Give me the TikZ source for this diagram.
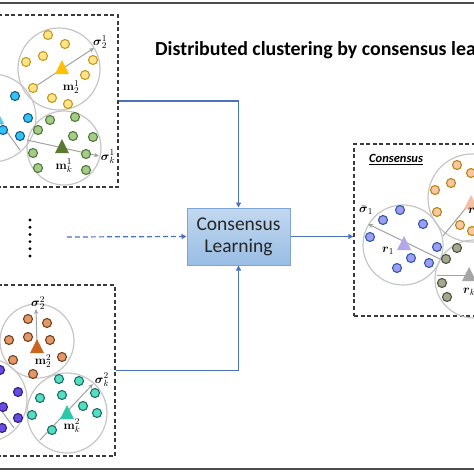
\documentclass[tikz,border=0pt]{standalone}
\usepackage{amsmath}
\usepackage[no-math]{fontspec}
\setmainfont{Carlito}
\usetikzlibrary{arrows.meta}
\definecolor{rulegray}{HTML}{4D4D4D}
\definecolor{boxgray}{HTML}{3A3A3A}
\definecolor{cgray}{HTML}{C6C6C6}
\definecolor{agray}{HTML}{A2A2A2}
\definecolor{conn}{HTML}{4A72BE}
\definecolor{clfillA}{HTML}{C2D8EF}
\definecolor{clfillB}{HTML}{99BDE4}
\definecolor{cldraw}{HTML}{7FA5D3}
\definecolor{yellowF}{HTML}{FFE48A}\definecolor{yellowD}{HTML}{C49A1E}\definecolor{yellowT}{HTML}{FFC000}
\definecolor{cyanF}{HTML}{2FC4F2}\definecolor{cyanD}{HTML}{1B5A8C}\definecolor{cyanT}{HTML}{55C6EE}
\definecolor{greenF}{HTML}{A6CC8A}\definecolor{greenD}{HTML}{4F7A35}\definecolor{greenT}{HTML}{5A7A34}
\definecolor{orangeF}{HTML}{E09A68}\definecolor{orangeD}{HTML}{7A3F1E}\definecolor{orangeT}{HTML}{C9651E}
\definecolor{purpleF}{HTML}{6A4BE0}\definecolor{purpleD}{HTML}{2C1E80}
\definecolor{tealF}{HTML}{55DEC2}\definecolor{tealD}{HTML}{1E6E62}\definecolor{tealT}{HTML}{2FC7AA}
\definecolor{lavF}{HTML}{A09CF5}\definecolor{lavD}{HTML}{2E5CA8}\definecolor{lavT}{HTML}{B3A6EB}
\definecolor{peachF}{HTML}{F8C6A4}\definecolor{peachD}{HTML}{B8860B}\definecolor{peachT}{HTML}{F6BFA5}
\definecolor{ggF}{HTML}{A3A88E}\definecolor{ggD}{HTML}{4E5444}\definecolor{ggT}{HTML}{A6A6A6}
\newcommand\mytri[3]{\fill[#3] (#1-7,#2+6) -- (#1+7,#2+6) -- (#1,#2-8) -- cycle;}
\begin{document}
\begin{tikzpicture}[x=1pt,y=-1pt,
  bigc/.style={draw=cgray, line width=1.2pt},
  radline/.style={draw=agray, line width=1pt},
  radarrow/.style={draw=agray, line width=1pt, -{Stealth[length=5pt,width=4.5pt]}},
  dotstyle/.style={line width=1.1pt},
  dbox/.style={draw=boxgray, line width=1.3pt, dash pattern=on 4pt off 2.6pt, rectangle, inner sep=0pt},
  link/.style={draw=conn, line width=1.2pt, -{Triangle[length=5pt,width=5pt]}},
  lab/.style={inner sep=0pt, font=\fontsize{12.5}{14}\selectfont},
  clbox/.style={rectangle, top color=clfillA, bottom color=clfillB, draw=cldraw, line width=1pt,
     minimum width=103pt, minimum height=57pt, inner sep=0pt, align=center,
     text=black!85, font=\fontsize{19.5}{22}\selectfont}
]
\useasboundingbox (0,0) rectangle (474,474);
\clip (0,0) rectangle (474,474);
\fill[white] (0,0) rectangle (474,474);

% rules
\draw[rulegray, line width=1.6pt] (0,3) -- (474,3);
\draw[rulegray, line width=1.6pt] (0,469) -- (474,469);

% title
\node[anchor=base west, inner sep=0pt, font=\fontsize{19.9}{22}\selectfont\bfseries] (title) at (155,55) {Distributed clustering by consensus learning};

% ---------- top-left panel ----------
\node[dbox, minimum width=128pt, minimum height=172pt] (box1) at (54,101) {};
% yellow
\draw[bigc] (59,69) circle (41pt);
\draw[radarrow] (33,88) -- (94,48);
\foreach \p in {(48,35),(65,44),(26,62),(43,56),(93,60),(85,75),(33,88),(52,98),(68,104)}
  \filldraw[dotstyle, fill=yellowF, draw=yellowD] \p circle (4.5pt);
\mytri{62}{68}{yellowT}
% cyan
\draw[bigc] (-8,118) circle (44pt);
\draw[radline] (-3,118) -- (20,150);
\foreach \p in {(15,96),(28,118),(3,130),(20,136)}
  \filldraw[dotstyle, fill=cyanF, draw=cyanD] \p circle (4.5pt);
\mytri{-3}{118}{cyanT}
% green
\draw[bigc] (64,148) circle (37pt);
\draw[radarrow] (27,140) -- (99,156);
\foreach \p in {(75,117),(50,120),(38,130),(73,136),(93,137),(33,153),(86,154),(38,168),(86,170)}
  \filldraw[dotstyle, fill=greenF, draw=greenD] \p circle (4.5pt);
\mytri{62}{147}{greenT}
\node[lab] (s21) at (100,42) {$\boldsymbol{\sigma}_2^1$};
\node[lab] (m21) at (71,87) {$\mathbf{m}_2^1$};
\node[lab] (sk1) at (108,157) {$\boldsymbol{\sigma}_k^1$};
\node[lab] (mk1) at (64,166) {$\mathbf{m}_k^1$};

% ---------- bottom-left panel ----------
\node[dbox, minimum width=125pt, minimum height=171pt] (box2) at (52.5,370.5) {};
% orange
\draw[bigc] (37,341) circle (37pt);
\draw[radarrow] (37,345) -- (36,309);
\foreach \p in {(28,319),(47,323),(9,340),(28,337),(50,340),(13,360),(62,357),(33,374)}
  \filldraw[dotstyle, fill=orangeF, draw=orangeD] \p circle (4.5pt);
\mytri{37}{347}{orangeT}
% purple
\draw[bigc] (-15,400) circle (42pt);
\draw[radline] (-12,392) -- (14,428);
\foreach \p in {(0,370),(18,392),(3,407),(18,418),(2,428)}
  \filldraw[dotstyle, fill=purpleF, draw=purpleD] \p circle (4.5pt);
% teal
\draw[bigc] (67,413) circle (40pt);
\draw[radarrow] (40,440) -- (93,384);
\foreach \p in {(59,379),(79,381),(62,395),(40,398),(95,393),(83,406),(97,413),(32,415),(52,430)}
  \filldraw[dotstyle, fill=tealF, draw=tealD] \p circle (4.5pt);
\mytri{67}{413}{tealT}
\node[lab] (s22) at (38,303) {$\boldsymbol{\sigma}_2^2$};
\node[lab] (m22) at (43,361) {$\mathbf{m}_2^2$};
\node[lab] (sk2) at (102,380) {$\boldsymbol{\sigma}_k^2$};
\node[lab] (mk2) at (72,426) {$\mathbf{m}_k^2$};

% ---------- dots between ----------
\foreach \yy in {220,227.2,234.4,241.6,248.8,256}
  \fill[black] (30,\yy) circle (1.6pt);

% ---------- consensus learning ----------
\node[clbox] (cl) at (238.5,236.5) {Consensus\\Learning};

% ---------- right panel ----------
\node[dbox, minimum width=130pt, minimum height=172pt] (rbox) at (419,230) {};
\node[anchor=base west, inner sep=0pt, font=\fontsize{12.5}{14}\selectfont\bfseries\itshape] (cons) at (369,162) {\underline{Consensus}};
% lavender
\draw[bigc] (403,245) circle (40pt);
\draw[radarrow] (440,259) -- (368,224);
\foreach \p in {(400,210),(383,220),(423,224),(370,237),(437,247),(411,258),(397,268),(429,263)}
  \filldraw[dotstyle, fill=lavF, draw=lavD] \p circle (4.5pt);
\mytri{404}{244}{lavT}
% peach
\draw[bigc] (472,198) circle (44pt);
\draw[radline] (470,203) -- (443,236);
\foreach \p in {(457,165),(471,173),(451,183),(435,190),(437,212),(460,225),(472,231)}
  \filldraw[dotstyle, fill=peachF, draw=peachD] \p circle (4.5pt);
\mytri{471}{203}{peachT}
% gray-green
\draw[bigc] (474,279) circle (39pt);
\draw[radline] (437,275) -- (468,275);
\foreach \p in {(457,248),(446,259),(442,283),(447,297)}
  \filldraw[dotstyle, fill=ggF, draw=ggD] \p circle (4.5pt);
\mytri{469}{275}{ggT}
\node[lab] (sb1) at (366,210) {$\bar{\boldsymbol{\sigma}}_1$};
\node[lab] (r1) at (388,251) {$\boldsymbol{r}_1$};
\node[lab, anchor=west] (r2) at (468,212) {$\boldsymbol{r}_2$};
\node[lab, anchor=west] (rk) at (463,292) {$\boldsymbol{r}_k$};

% ---------- connectors ----------
\coordinate (dstart) at (67,237);
\draw[link] (box1.east) -| (cl.north);
\draw[link] (box2.east) -| (cl.south);
\draw[link, dash pattern=on 5pt off 3pt] (dstart) -- (cl.west);
\draw[link] (cl.east) -- (cl.east -| rbox.west);
\end{tikzpicture}
\end{document}
